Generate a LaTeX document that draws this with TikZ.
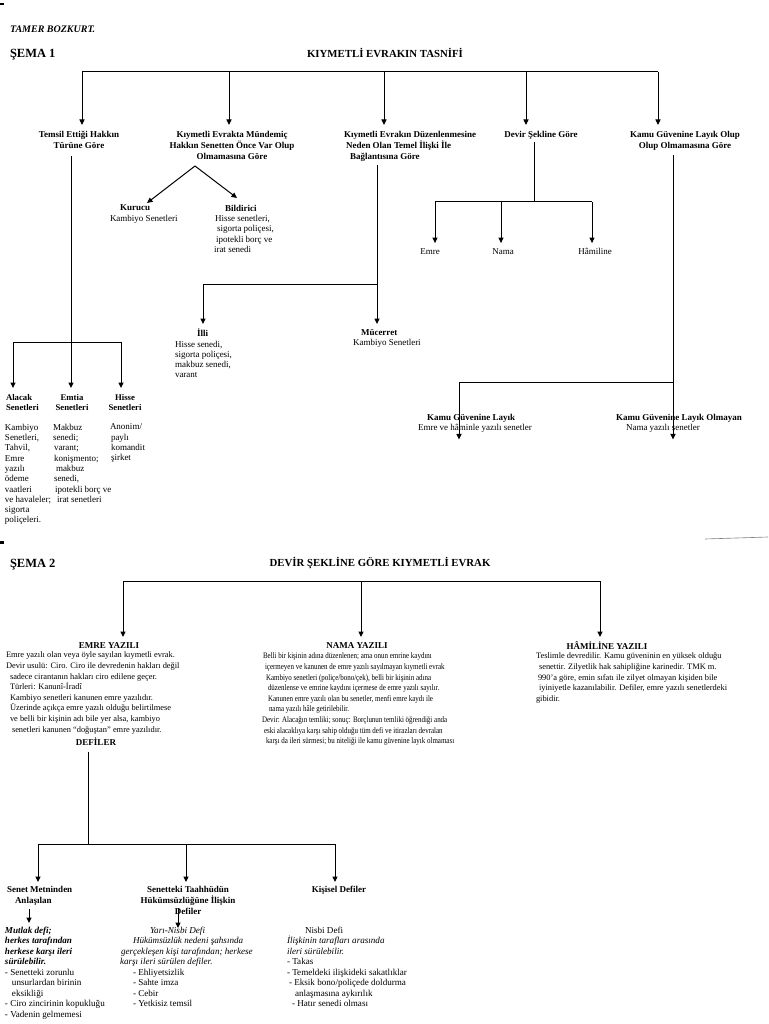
\documentclass[tikz,border=0pt]{standalone}
\usepackage{fontspec}
\setmainfont{Liberation Serif}
\newfontfamily\narrowrm[FakeStretch=0.83]{Liberation Serif}
\usetikzlibrary{arrows.meta}
\begin{document}
\begin{tikzpicture}[x=1pt,y=-1pt,
  every node/.style={inner sep=0pt, outer sep=0pt},
  ln/.style={line width=1pt},
  arr/.style={line width=1pt,-{Triangle[width=5pt,length=5.5pt]}},
  hb/.style={font=\bfseries\fontsize{9}{11}\selectfont, align=center, anchor=north},
  hbl/.style={font=\bfseries\fontsize{9}{11}\selectfont, align=left, anchor=north west},
  sb/.style={font=\bfseries\fontsize{8.7}{10.3}\selectfont, align=center, anchor=north},
  tx/.style={font=\fontsize{9}{10.3}\selectfont, align=left, anchor=north west},
  tx2/.style={font=\fontsize{8.4}{10.6}\selectfont, align=left, anchor=north west},
  td/.style={font=\fontsize{9.1}{10.5}\selectfont, align=left, anchor=north west},
  big/.style={font=\bfseries\fontsize{12.5}{14}\selectfont, anchor=base west},
  ttl/.style={font=\bfseries\fontsize{10.8}{12}\selectfont},
]
\useasboundingbox (0,0) rectangle (768,1024);

% scan marks
\fill (0,3) rectangle (4,5.5);
\fill (0,541) rectangle (4,544);
\draw[line width=0.6pt, gray] (705,539) -- (768,537);

% ---------------- SEMA 1 ----------------
\node[anchor=west, font=\bfseries\itshape\fontsize{10}{11}\selectfont] (author) at (10,29) {TAMER BOZKURT.};
\node[big] (sema1) at (10,57.5) {ŞEMA 1};
\node[ttl] (title1) at (385,53) {KIYMETLİ EVRAKIN TASNİFİ};

\coordinate (a1) at (82,72);
\coordinate (a2) at (229,72);
\coordinate (a3) at (384,72);
\coordinate (a4) at (526,72);
\coordinate (a5) at (658,72);
\draw[ln] (a1) -- (a5);

\node[hb] (temsil) at (79,131) {Temsil Ettiği Hakkın\\Türüne Göre};
\node[hb] (mundemic) at (232,131) {Kıymetli Evrakta Mündemiç\\Hakkın Senetten Önce Var Olup\\Olmamasına Göre};
\node[hbl] (duzen) at (344,131) {Kıymetli Evrakın Düzenlenmesine\\\hspace*{2pt}Neden Olan Temel İlişki İle\\\hspace*{6pt}Bağlantısına Göre};
\node[hb] (devir) at (541,131) {Devir Şekline Göre};
\node[hb] (kamu) at (685,131) {Kamu Güvenine Layık Olup\\Olup Olmamasına Göre};

\draw[arr] (a1) -- ([yshift=6pt]a1 |- temsil.north);
\draw[arr] (a2) -- ([yshift=6pt]a2 |- mundemic.north);
\draw[arr] (a3) -- ([yshift=6pt]a3 |- duzen.north);
\draw[arr] (a4) -- ([yshift=6pt]a4 |- devir.north);
\draw[arr] (a5) -- ([yshift=6pt]a5 |- kamu.north);

% Temsil subtree
\coordinate (tj) at (71,342);
\coordinate (tl) at (13,342);
\coordinate (tr) at (121,342);
\node[sb, anchor=north west, align=left] (alacak) at (6,394) {Alacak\\Senetleri};
\node[sb] (emtia) at (72,394) {Emtia\\Senetleri};
\node[sb] (hisse) at (125,394) {Hisse\\Senetleri};
\draw[arr] ([yshift=-8pt]tj |- temsil.south) -- ([yshift=6pt]tj |- emtia.north);
\draw[ln] (tl) -- (tr);
\draw[arr] (tl) -- ([yshift=6pt]tl |- alacak.north);
\draw[arr] (tr) -- ([yshift=6pt]tr |- hisse.north);

\node[tx] (c1) at (5,424) {Kambiyo\\Senetleri,\\Tahvil,\\Emre\\yazılı\\ödeme\\vaatleri\\ve havaleler;\\sigorta\\poliçeleri.};
\node[tx] (c2) at (53,424) {Makbuz\\senedi;\\\hspace*{1pt}varant;\\\hspace*{1pt}konişmento;\\\hspace*{3pt}makbuz\\\hspace*{1pt}senedi,\\\hspace*{2pt}ipotekli borç ve\\\hspace*{4pt}irat senetleri};
\node[tx] (c3) at (110,424) {Anonim/\\\hspace*{1pt}paylı\\\hspace*{1pt}komandit\\\hspace*{1pt}şirket};

% Mundemic subtree
\coordinate (ap) at (195,166);
\node[tx] (kurucu) at (110,205) {\hspace*{10pt}\textbf{Kurucu}\\Kambiyo Senetleri};
\node[tx] (bildirici) at (214,205) {\hspace*{11pt}\textbf{Bildirici}\\\hspace*{1pt}Hisse senetleri,\\\hspace*{3pt}sigorta poliçesi,\\\hspace*{2pt}ipotekli borç ve\\irat senedi};
\draw[arr] (ap) -- ([xshift=37pt,yshift=2pt]kurucu.north west);
\draw[arr] (ap) -- ([xshift=23pt,yshift=7pt]bildirici.north west);

% Duzen subtree
\coordinate (dj) at (377,284);
\coordinate (dl) at (203,284);
\node[tx] (illi) at (175,329) {\hspace*{22pt}\textbf{İlli}\\Hisse senedi,\\sigorta poliçesi,\\makbuz senedi,\\varant};
\node[tx] (mucerret) at (353,329) {\hspace*{8pt}\textbf{Mücerret}\\Kambiyo Senetleri};
\draw[arr] ([yshift=-4pt]dj |- duzen.south) -- ([yshift=5pt]dj |- mucerret.north);
\draw[arr] (dj) -- (dl) -- ([yshift=5pt]dl |- illi.north);

% Devir subtree
\coordinate (vj) at (534,202);
\coordinate (vl) at (435,202);
\coordinate (vm) at (501,202);
\coordinate (vr) at (592,202);
\node[tx, anchor=base] (emre) at (430,254) {Emre};
\node[tx, anchor=base] (nama) at (503,254) {Nama};
\node[tx, anchor=base] (hamiline) at (595,254) {Hâmiline};
\draw[ln] ([yshift=-3pt]vj |- devir.south) -- (vj);
\draw[ln] (vl) -- (vr);
\draw[arr] (vl) -- ([yshift=5pt]vl |- emre.north);
\draw[arr] (vm) -- ([yshift=5pt]vm |- emre.north);
\draw[arr] (vr) -- ([yshift=5pt]vr |- emre.north);

% Kamu subtree
\coordinate (kj) at (673,382);
\coordinate (kl) at (459,382);
\node[tx] (kgl) at (418,414) {\hspace*{9pt}\textbf{Kamu Güvenine Layık}\\Emre ve hâminle yazılı senetler};
\node[tx] (kglo) at (616,414) {\textbf{Kamu Güvenine Layık Olmayan}\\\hspace*{10pt}Nama yazılı senetler};
\draw[arr] ([yshift=-5pt]kj |- kamu.south) -- ([yshift=-7pt]kj |- kglo.south);
\draw[arr] (kj) -- (kl) -- ([yshift=-7pt]kl |- kgl.south);

% ---------------- SEMA 2 ----------------
\node[big] (sema2) at (10,567.5) {ŞEMA 2};
\node[ttl] (title2) at (380,563) {DEVİR ŞEKLİNE GÖRE KIYMETLİ EVRAK};

\coordinate (e1) at (123,581);
\coordinate (e2) at (361,581);
\coordinate (e3) at (600,581);
\draw[ln] (e1) -- (e3);

\node[hb] (emreh) at (109,643) {EMRE YAZILI};
\node[hb] (namah) at (357,643) {NAMA YAZILI};
\node[hb] (hamh) at (607,642) {HÂMİLİNE YAZILI};
\draw[arr] (e1) -- ([yshift=6pt]e1 |- emreh.north);
\draw[arr] (e2) -- ([yshift=6pt]e2 |- namah.north);
\draw[arr] (e3) -- ([yshift=6pt]e3 |- namah.north);

\node[tx2] (emret) at (6,652) {Emre yazılı olan veya öyle sayılan kıymetli evrak.\\Devir usulü: Ciro. Ciro ile devredenin hakları değil\\\hspace*{4pt}sadece cirantanın hakları ciro edilene geçer.\\\hspace*{4pt}Türleri: Kanunî-İradî\\\hspace*{4pt}Kambiyo senetleri kanunen emre yazılıdır.\\\hspace*{4pt}Üzerinde açıkça emre yazılı olduğu belirtilmese\\\hspace*{4pt}ve belli bir kişinin adı bile yer alsa, kambiyo\\\hspace*{6pt}senetleri kanunen “doğuştan” emre yazılıdır.};
\node[tx2, font=\narrowrm\fontsize{8.4}{10.6}\selectfont] (namat) at (262,653) {\hspace*{1pt}Belli bir kişinin adına düzenlenen; ama onun emrine kaydını\\\hspace*{3pt}içermeyen ve kanunen de emre yazılı sayılmayan kıymetli evrak\\\hspace*{4pt}Kambiyo senetleri (poliçe/bono/çek), belli bir kişinin adına\\\hspace*{6pt}düzenlense ve emrine kaydını içermese de emre yazılı sayılır.\\\hspace*{6pt}Kanunen emre yazılı olan bu senetler, menfi emre kaydı ile\\\hspace*{7pt}nama yazılı hâle getirilebilir.\\Devir: Alacağın temliki; sonuç: Borçlunun temliki öğrendiği anda\\\hspace*{2pt}eski alacaklıya karşı sahip olduğu tüm defi ve itirazları devralan\\\hspace*{4pt}karşı da ileri sürmesi; bu niteliği ile kamu güvenine layık olmaması};
\node[tx2] (hamt) at (536,653) {Teslimle devredilir. Kamu güveninin en yüksek olduğu\\\hspace*{3pt}senettir. Zilyetlik hak sahipliğine karinedir. TMK m.\\\hspace*{2pt}990’a göre, emin sıfatı ile zilyet olmayan kişiden bile\\\hspace*{3pt}iyiniyetle kazanılabilir. Defiler, emre yazılı senetlerdeki\\gibidir.};

\node[hb] (defiler) at (96,738) {DEFİLER};

\coordinate (dfx) at (88,844);
\coordinate (dfl) at (38,844);
\coordinate (dfm) at (186,844);
\coordinate (dfr) at (335,844);
\draw[ln] ([yshift=-6pt]dfx |- defiler.south) -- (dfx);
\draw[ln] (dfl) -- (dfr);

\node[hbl] (senet) at (7,886) {Senet Metninden\\\hspace*{8pt}Anlaşılan};
\node[hb] (taah) at (188,886) {Senetteki Taahhüdün\\Hükümsüzlüğüne İlişkin\\Defiler};
\node[hb] (kisisel) at (339,886) {Kişisel Defiler};
\draw[arr] (dfl) -- ([yshift=4pt]dfl |- senet.north);
\draw[arr] (dfm) -- ([yshift=4pt]dfm |- taah.north);
\draw[arr] (dfr) -- ([yshift=4pt]dfr |- kisisel.north);

\coordinate (ax1) at (29,0);
\coordinate (ax2) at (178,0);
\node[td] (mutlak) at (5,927) {\textit{\textbf{Mutlak defi;}}\\\textit{\textbf{herkes tarafından}}\\\textit{\textbf{herkese karşı ileri}}\\\textit{\textbf{sürülebilir.}}\\- Senetteki zorunlu\\\hspace*{7pt}unsurlardan birinin\\\hspace*{7pt}eksikliği\\- Ciro zincirinin kopukluğu\\- Vadenin gelmemesi};
\node[td] (yari) at (120,927) {\hspace*{30pt}\textit{Yarı-Nisbi Defi}\\\hspace*{13pt}\textit{Hükümsüzlük nedeni şahsında}\\\hspace*{1pt}\textit{gerçekleşen kişi tarafından; herkese}\\\textit{karşı ileri sürülen defiler.}\\\hspace*{13pt}- Ehliyetsizlik\\\hspace*{13pt}- Sahte imza\\\hspace*{13pt}- Cebir\\\hspace*{13pt}- Yetkisiz temsil};
\node[td] (nisbi) at (287,927) {\hspace*{18pt}Nisbi Defi\\\textit{İlişkinin tarafları arasında}\\\textit{ileri sürülebilir.}\\- Takas\\- Temeldeki ilişkideki sakatlıklar\\\hspace*{2pt}- Eksik bono/poliçede doldurma\\\hspace*{8pt}anlaşmasına aykırılık\\\hspace*{5pt}- Hatır senedi olması};

\draw[arr] ([yshift=-4pt]ax1 |- senet.south) -- ([yshift=4pt]ax1 |- mutlak.north);
\draw[arr] ([yshift=6pt]ax2 |- taah.south) -- ([yshift=-1pt]ax2 |- yari.north);

\end{tikzpicture}
\end{document}
